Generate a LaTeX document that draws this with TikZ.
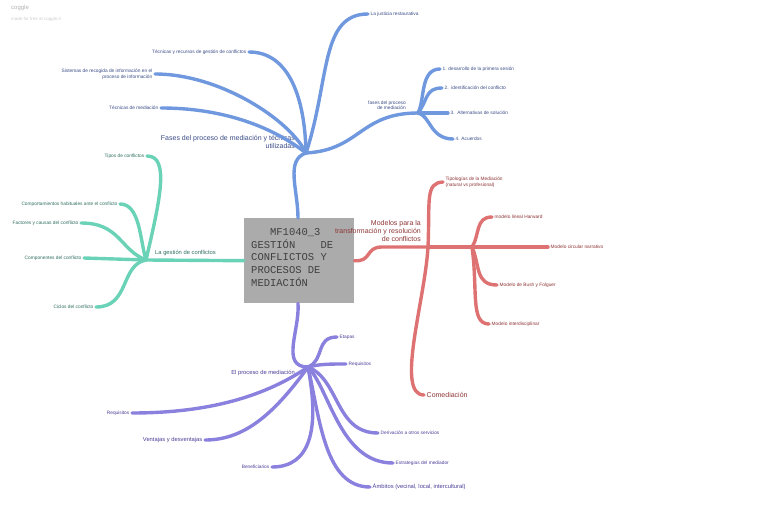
\documentclass[tikz,border=0pt]{standalone}
\usepackage{fontspec}
\setmainfont{Liberation Sans}
\setmonofont{Liberation Mono}
\definecolor{cb}{HTML}{6F98DE}
\definecolor{cg}{HTML}{6AD2B6}
\definecolor{cr}{HTML}{DE7272}
\definecolor{cp}{HTML}{8A80DE}
\definecolor{tb}{HTML}{3A4B86}
\definecolor{tg}{HTML}{2F6E5E}
\definecolor{tr}{HTML}{8E3434}
\definecolor{tp}{HTML}{4A3F98}
\begin{document}
\begin{tikzpicture}[x=1pt,y=-1pt,
  br/.style={line width=3.4pt,line cap=round},
  lf/.style={font=\fontsize{4.8}{5.6}\selectfont,inner sep=2.5pt,align=left},
  lb/.style={font=\fontsize{5.8}{6.6}\selectfont,inner sep=2.5pt},
  lg/.style={font=\fontsize{7}{8}\selectfont,inner sep=1pt}]
\useasboundingbox (0,0) rectangle (768,505);
\node[anchor=north west,text=gray!60,font=\fontsize{6}{7}\selectfont,inner sep=0] (cg) at (11,5) {coggle};
\node[anchor=north west,text=gray!40,font=\fontsize{4.5}{5}\selectfont,inner sep=0] (mf) at (11,17) {made for free at coggle.it};
% central
\node[fill=black!33,minimum width=110,minimum height=85,anchor=north west,inner sep=0] (c) at (244,218) {};
\node[anchor=north west,font=\ttfamily\fontsize{10.5}{12.8}\selectfont,text=black!75,align=left,inner sep=0] (ct) at (251,228)
 {\ \ \ MF1040\_3\\GESTIÓN\ \ \ \ DE\\CONFLICTOS Y\\PROCESOS DE\\MEDIACIÓN};
% ---- blue
\coordinate (hb) at (306,153);
\coordinate (hb2) at (418,113);
\draw[br,cb] (c.north -| 298,0) .. controls (298,190) and (285,160) .. (hb);
\node[lg,text=tb,align=right,anchor=east] (lbl) at (296,142) {Fases del proceso de mediación y técnicas\\utilizadas};
\node[lf,text=tb,anchor=west] (b1) at (368,14) {La justicia restaurativa};
\node[lf,text=tb,anchor=east] (b2) at (249,52) {Técnicas y recursos de gestión de conflictos};
\node[lf,text=tb,anchor=east,align=right] (b3) at (155,74) {Sistemas de recogida de información en el\\proceso de información};
\node[lf,text=tb,anchor=east] (b4) at (161,108) {Técnicas de mediación};
\node[lf,text=tb,anchor=south east,align=right,inner sep=1pt] (b5) at (407,111) {fases del proceso\\de mediación};
\draw[br,cb] (hb) .. controls (330,80) and (320,14) .. (b1.west);
\draw[br,cb] (hb) .. controls (305,100) and (290,52) .. (b2.east);
\draw[br,cb] (hb) .. controls (290,120) and (220,74) .. (b3.east);
\draw[br,cb] (hb) .. controls (270,125) and (220,108) .. (b4.east);
\draw[br,cb] (hb) .. controls (360,150) and (360,113) .. (hb2);
\node[lf,text=tb,anchor=west] (f1) at (440,69) {1. desarrollo de la primera sesión};
\node[lf,text=tb,anchor=west] (f2) at (442,88) {2.\ \ identificación del conflicto};
\node[lf,text=tb,anchor=west] (f3) at (448,113) {3.\ \ Alternativas de solución};
\node[lf,text=tb,anchor=west] (f4) at (453,139) {4. Acuerdos};
\draw[br,cb] (hb2) .. controls (425,100) and (420,69) .. (f1.west);
\draw[br,cb] (hb2) .. controls (428,100) and (425,88) .. (f2.west);
\draw[br,cb] (hb2) -- (f3.west);
\draw[br,cb] (hb2) .. controls (430,115) and (430,139) .. (f4.west);
% ---- green
\coordinate (hg) at (146,260);
\draw[br,cg] (c.west) -- (hg);
\node[lb,text=tg,anchor=south west,inner sep=1pt] (lg) at (154,257) {La gestión de conflictos};
\node[lf,text=tg,anchor=east] (g1) at (147,156) {Tipos de conflictos};
\node[lf,text=tg,anchor=east] (g2) at (120,204) {Comportamientos habituales ante el conflicto};
\node[lf,text=tg,anchor=east] (g3) at (81,223) {Factores y causas del conflicto};
\node[lf,text=tg,anchor=east] (g4) at (84,258) {Componentes del conflicto};
\node[lf,text=tg,anchor=east] (g5) at (96,307) {Ciclos del conflicto};
\draw[br,cg] (hg) .. controls (160,200) and (170,156) .. (g1.east);
\draw[br,cg] (hg) .. controls (140,240) and (140,204) .. (g2.east);
\draw[br,cg] (hg) .. controls (120,250) and (120,223) .. (g3.east);
\draw[br,cg] (hg) -- (g4.east);
\draw[br,cg] (hg) .. controls (120,265) and (130,307) .. (g5.east);
% ---- red
\coordinate (hr) at (428,247);
\coordinate (hr2) at (472,247);
\draw[br,cr] (c.east) .. controls (372,262) and (365,247) .. (382,247) -- (hr);
\node[lg,text=tr,align=right,anchor=east] (lr) at (422,231) {Modelos para la\\transformación y resolución\\de conflictos};
\node[lf,text=tr,anchor=west,align=left] (r1) at (443,182) {Tipologías de la Mediación\\(natural vs profesional)};
\node[lg,text=tr,anchor=west,inner sep=2.5pt] (r2) at (424,395) {Comediación};
\draw[br,cr] (hr) .. controls (430,200) and (425,183) .. (r1.west);
\draw[br,cr] (hr) .. controls (425,300) and (395,395) .. (r2.west);
\draw[br,cr] (hr) -- (hr2);
\node[lf,text=tr,anchor=west] (m1) at (492,217) {modelo lineal Harward};
\node[lf,text=tr,anchor=west] (m2) at (548,247) {Modelo circular narrativo};
\node[lf,text=tr,anchor=west] (m3) at (497,285) {Modelo de Bush y Folguer};
\node[lf,text=tr,anchor=west] (m4) at (489,324) {Modelo interdisciplinar};
\draw[br,cr] (hr2) .. controls (480,235) and (475,217) .. (m1.west);
\draw[br,cr] (hr2) -- (m2.west);
\draw[br,cr] (hr2) .. controls (480,265) and (475,285) .. (m3.west);
\draw[br,cr] (hr2) .. controls (478,290) and (470,324) .. (m4.west);
% ---- purple
\coordinate (hp) at (308,367);
\draw[br,cp] (c.south -| 298,0) .. controls (300,330) and (280,367) .. (hp);
\node[lb,text=tp,anchor=east,inner sep=1pt] (lp) at (296,373) {El proceso de mediación};
\node[lf,text=tp,anchor=west] (p1) at (337,337) {Etapas};
\node[lf,text=tp,anchor=west] (p2) at (346,364) {Requisitos};
\node[lf,text=tp,anchor=east] (p3) at (132,413) {Requisitos};
\node[lb,text=tp,anchor=east] (p4) at (205,440) {Ventajas y desventajas};
\node[lf,text=tp,anchor=east] (p5) at (272,467) {Beneficiarios};
\node[lf,text=tp,anchor=west] (p6) at (378,433) {Derivación a otros servicios};
\node[lf,text=tp,anchor=west] (p7) at (393,463) {Estrategias del mediador};
\node[lb,text=tp,anchor=west] (p8) at (370,487) {Ámbitos (vecinal, local, intercultural)};
\draw[br,cp] (hp) .. controls (325,360) and (315,337) .. (p1.west);
\draw[br,cp] (hp) .. controls (320,364) and (330,364) .. (p2.west);
\draw[br,cp] (hp) .. controls (260,400) and (200,413) .. (p3.east);
\draw[br,cp] (hp) .. controls (270,420) and (240,440) .. (p4.east);
\draw[br,cp] (hp) .. controls (320,430) and (310,467) .. (p5.east);
\draw[br,cp] (hp) .. controls (340,380) and (335,433) .. (p6.west);
\draw[br,cp] (hp) .. controls (330,390) and (340,463) .. (p7.west);
\draw[br,cp] (hp) .. controls (320,420) and (325,487) .. (p8.west);
\end{tikzpicture}
\end{document}
